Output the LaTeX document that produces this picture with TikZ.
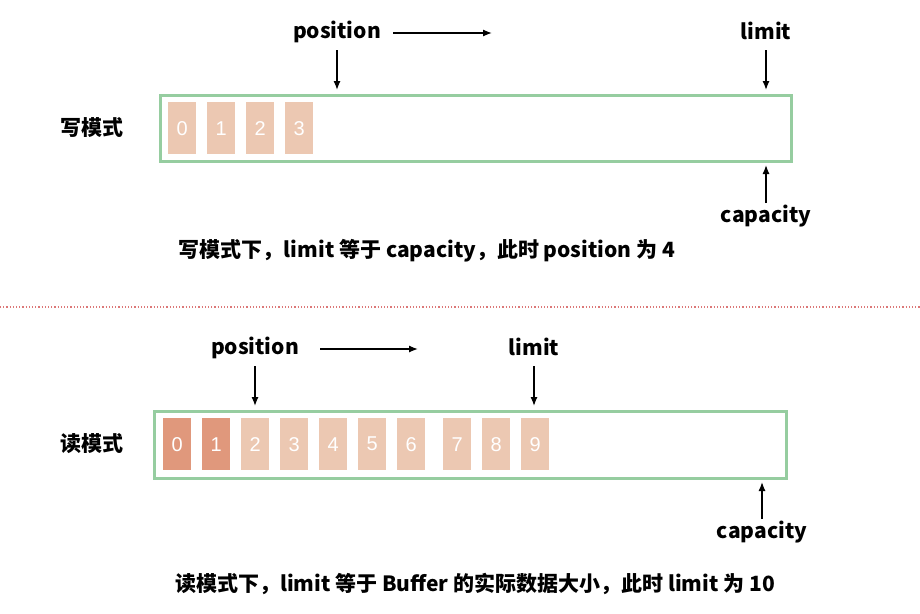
\documentclass[tikz,border=0pt]{standalone}
\usepackage{fontspec}
\setmainfont{Liberation Sans}
\newfontfamily\cjk{Noto Sans CJK SC}
\usetikzlibrary{arrows.meta}
\definecolor{sepred}{RGB}{220,120,120}
\definecolor{bufgreen}{RGB}{150,205,160}
\definecolor{celllight}{RGB}{236,200,178}
\definecolor{celldark}{RGB}{224,152,124}
\begin{document}
\begin{tikzpicture}[x=1pt,y=-1pt,
 lab/.style={font=\bfseries\fontsize{21}{24}\selectfont\cjk, inner sep=0},
 buf/.style={draw=bufgreen, line width=3pt},
 cl/.style={fill=celllight, minimum width=28pt, minimum height=52pt, inner sep=0, anchor=north west, text=white, font=\fontsize{20}{22}\selectfont},
 cd/.style={cl, fill=celldark},
 arr/.style={-{Latex[length=9pt,width=7pt]}, line width=1.3pt}]
\useasboundingbox (0,0) rectangle (920,613);
% write mode
\node[buf, minimum width=631pt, minimum height=66pt, anchor=north west, inner sep=0] (wb) at (159,94) {};
\foreach \x/\n in {168/0,207/1,246/2,285/3} \node[cl] (w\n) at (\x,102) {\n};
\node[lab] (wm) at (92,127) {写模式};
\node[lab] (wp) at (337,32) {position};
\coordinate (wpa) at (393,33); \coordinate (wpb) at (492,33);
\draw[arr] (wpa) -- (wpb);
\coordinate (wpd) at (337,90); \draw[arr] (337,50) -- (wpd);
\node[lab] (wl) at (766,31) {limit};
\coordinate (wld) at (766,90); \draw[arr] (766,50) -- (wld);
\node[lab] (wc) at (766,216) {capacity};
\coordinate (wcu) at (766,165); \draw[arr] (766,203) -- (wcu);
\node[lab] (wt) at (427,251) {写模式下，limit 等于 capacity，此时 position 为 4};
% separator
\draw[sepred, dotted, line width=1.2pt] (0,307) -- (920,307);
% read mode
\node[buf, minimum width=632pt, minimum height=67pt, anchor=north west, inner sep=0] (rb) at (153,410) {};
\foreach \x/\n in {163/0,202/1} \node[cd] (r\n) at (\x,418) {\n};
\foreach \x/\n in {241/2,280/3,319/4,358/5,397/6,443/7,482/8,521/9} \node[cl] (r\n) at (\x,418) {\n};
\node[lab] (rm) at (92,444) {读模式};
\node[lab] (rp) at (255,348) {position};
\draw[arr] (320,349) -- (418,349);
\coordinate (rpd) at (255,406); \draw[arr] (255,366) -- (rpd);
\node[lab] (rl) at (534,347) {limit};
\coordinate (rld) at (534,406); \draw[arr] (534,366) -- (rld);
\node[lab] (rc) at (762,532) {capacity};
\coordinate (rcu) at (762,482); \draw[arr] (762,519) -- (rcu);
\node[lab] (rt) at (475,584) {读模式下，limit 等于 Buffer 的实际数据大小，此时 limit 为 10};
\end{tikzpicture}
\end{document}
